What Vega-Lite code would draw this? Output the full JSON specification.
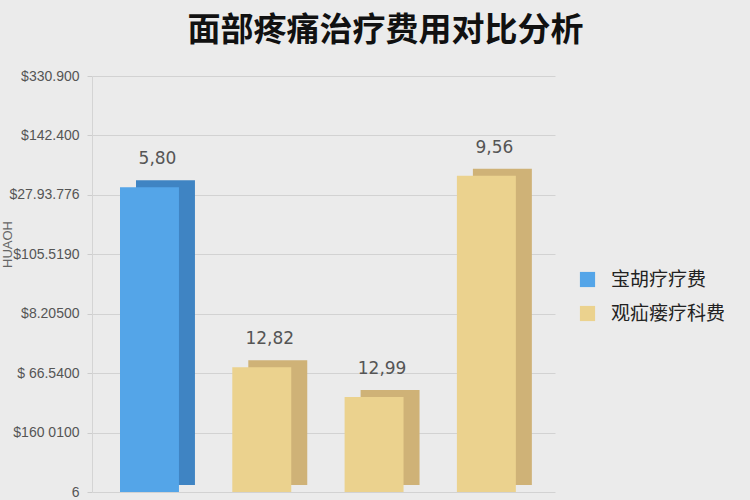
{
  "$schema": "https://vega.github.io/schema/vega-lite/v6.json",
  "autosize": "none",
  "width": 463,
  "height": 416,
  "padding": {"left": 92, "top": 76, "right": 195, "bottom": 8},
  "background": "#ebebeb",
  "config": {
    "view": {"stroke": null},
    "font": "Noto Sans CJK SC"
  },
  "title": {
    "text": "面部疼痛治疗费用对比分析",
    "fontSize": 33,
    "fontWeight": "bold",
    "color": "#111111",
    "anchor": "middle",
    "dx": 62,
    "offset": 21,
    "font": "Noto Sans CJK SC"
  },
  "data": {
    "values": [
      {"item": "A", "type": "宝胡疗疗费", "value": 5.13, "label": "5,80"},
      {"item": "B", "type": "观疝瘘疗科费", "value": 2.1, "label": "12,82"},
      {"item": "C", "type": "观疝瘘疗科费", "value": 1.6, "label": "12,99"},
      {"item": "D", "type": "观疝瘘疗科费", "value": 5.32, "label": "9,56"}
    ]
  },
  "encoding": {
    "x": {
      "field": "item",
      "type": "nominal",
      "axis": null,
      "scale": {"paddingInner": 0.475, "paddingOuter": 0.299, "align": 0.417}
    },
    "y": {
      "field": "value",
      "type": "quantitative",
      "scale": {"domain": [0, 7], "nice": false},
      "axis": {
        "values": [0, 1, 2, 3, 4, 5, 6, 7],
        "labelExpr": "['6','$160 0100','$ 66.5400','$8.20500','$105.5190','$27.93.776','$142.400','$330.900'][datum.value]",
        "labelFontSize": 14,
        "labelColor": "#555555",
        "labelPadding": 8,
        "labelFont": "Liberation Sans",
        "labelBound": false,
        "tickColor": "#cccccc",
        "tickSize": 5,
        "domainColor": "#d4d4d4",
        "gridColor": "#d2d2d2",
        "title": "HUAOH",
        "titleFont": "Liberation Sans",
        "titleFontSize": 13,
        "titleFontWeight": "normal",
        "titleColor": "#666666",
        "titleX": -78,
        "titleY": 168,
        "titleAngle": 270,
        "titleAlign": "center"
      }
    }
  },
  "layer": [
    {
      "mark": {"type": "bar", "xOffset": 16, "yOffset": -7},
      "encoding": {
        "color": {
          "field": "type",
          "type": "nominal",
          "scale": {"domain": ["宝胡疗疗费", "观疝瘘疗科费"], "range": ["#3f84c3", "#cfb277"]},
          "legend": null
        }
      }
    },
    {
      "mark": {"type": "bar"},
      "encoding": {
        "color": {
          "field": "type",
          "type": "nominal",
          "scale": {"domain": ["宝胡疗疗费", "观疝瘘疗科费"], "range": ["#54a5e8", "#ebd28e"]},
          "legend": {
            "title": null,
            "orient": "none",
            "legendX": 486,
            "legendY": 194,
            "symbolType": "square",
            "symbolSize": 230,
            "symbolStrokeWidth": 0,
            "labelFontSize": 19,
            "labelColor": "#222222",
            "labelOffset": 14,
            "rowPadding": 14,
            "labelFont": "Noto Sans CJK SC"
          }
        }
      }
    },
    {
      "mark": {"type": "text", "dy": -28, "dx": 8, "fontSize": 17, "color": "#555555", "font": "DejaVu Sans"},
      "encoding": {"text": {"field": "label"}}
    }
  ],
  "resolve": {"scale": {"color": "independent"}}
}
